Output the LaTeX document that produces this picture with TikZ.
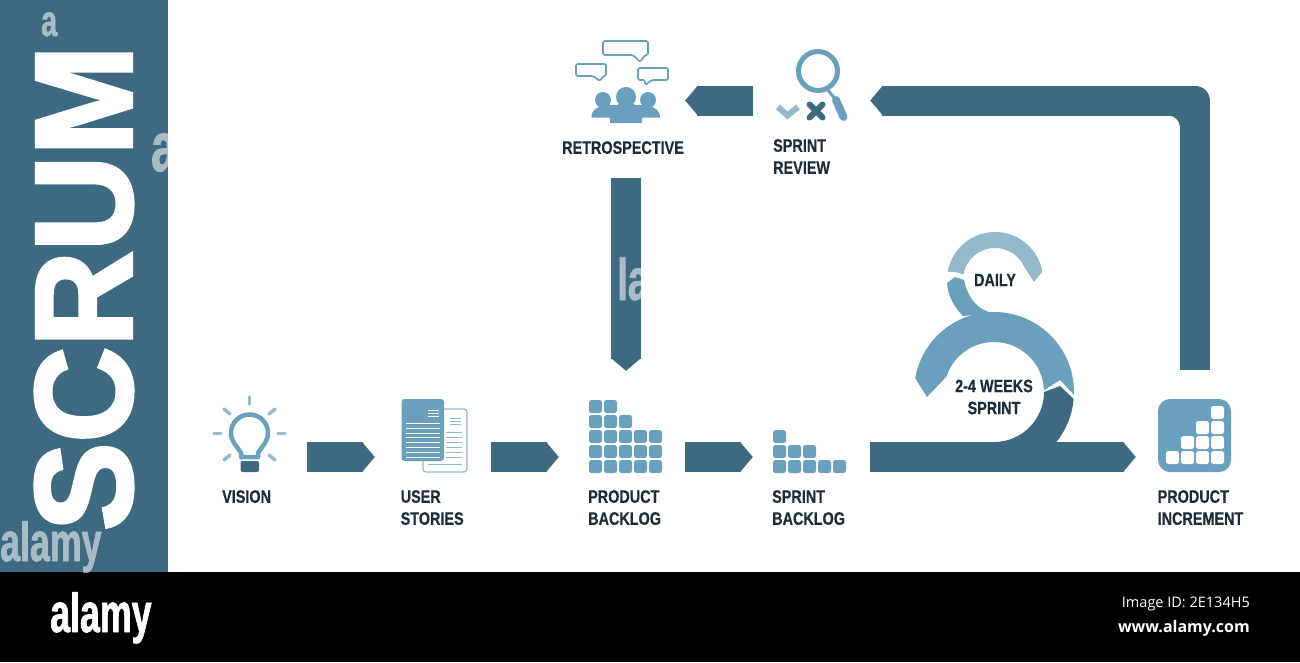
\documentclass[tikz,border=0pt]{standalone}
\usepackage{fontspec}
\usepackage{tikz}
\usetikzlibrary{
  arrows.meta,
  calc
}
\setmainfont{Liberation Sans}
\newfontfamily\labelfont[FakeStretch=0.8,FakeBold=0.4]{Liberation Sans}
\newfontfamily\titlefont[FakeStretch=0.96,FakeBold=2.5]{Liberation Sans}
\newfontfamily\markfont[FakeStretch=0.65,FakeBold=1.2]{Liberation Sans}
\newfontfamily\idfont{Open Sans}
\definecolor{scrumdark}{HTML}{3D6A80}
\definecolor{scrummid}{HTML}{6A9FBD}
\definecolor{scrumlight}{HTML}{93BACB}
\definecolor{scrumtext}{HTML}{1D2C36}
\definecolor{scrummark}{HTML}{A9BBC5}

\begin{document}
\begin{tikzpicture}[x=1pt,y=-1pt]
	\tikzset{
		steplabel/.style={
				anchor=north west, inner sep=0pt, align=left, text=scrumtext,
				font=\labelfont\bfseries\fontsize{18}{22}\selectfont,
			},
		looplabel/.style={
				inner sep=0pt, align=center, text=scrumtext,
				font=\labelfont\bfseries\fontsize{18}{22}\selectfont,
			},
		markword/.style={
				inner sep=0pt, anchor=base west, text=#1,
				font=\markfont\bfseries\fontsize{55}{55}\selectfont,
			},
		iconslot/.style={inner sep=0pt, minimum height=30pt, minimum width=#1},
		flow/.style={
				draw=scrumdark, line width=30pt,
				-{Triangle[length=13pt,width=30pt]},
			},
		cell/.style={fill=scrummid, rounded corners=2.5pt},
		whitecell/.style={fill=white, rounded corners=2.5pt},
		ray/.style={draw=scrumlight, line width=3.5pt, line cap=round},
		bubble/.style={draw=scrummid, line width=1.7pt, rounded corners=1.5pt, line join=round},
		textline/.style={draw=#1, line width=1pt},
	}
	\useasboundingbox (0,0) rectangle (1300,662);
	\fill[black] (0,572) rectangle (1300,662);
	\fill[scrumdark] (0,0) rectangle (168,572);
	\node[markword=scrummark, font=\markfont\bfseries\fontsize{44}{44}\selectfont] (marktop) at (41,36) {a};
	\node[markword=scrummark, font=\markfont\bfseries\fontsize{70}{70}\selectfont] (markside) at (151,171) {a};
	\fill[white] (168,0) rectangle (1300,572);

	\node[rotate=90, inner sep=0pt, text=white, font=\titlefont\bfseries\fontsize{138}{138}\selectfont] (title) at (84,288) {SCRUM};

	% icon slots, the arrows run between them
	\node[iconslot=74pt] (vision) at (249,457) {};
	\node[iconslot=66pt] (stories) at (434,457) {};
	\node[iconslot=74pt] (product) at (626,457) {};
	\node[iconslot=75pt] (sprint) at (810.5,457) {};
	\node[iconslot=73pt] (increment) at (1194.5,457) {};
	\node[iconslot=70pt] (retro) at (626,100.5) {};
	\node[iconslot=75pt] (review) at (810.5,100.5) {};
	\coordinate (incrementup) at (1195,370);

	\draw[flow, shorten <=21pt, shorten >=26pt] (vision) -- (stories);
	\draw[flow, shorten <=24pt, shorten >=30pt] (stories) -- (product);
	\draw[flow, shorten <=22pt, shorten >=20pt] (product) -- (sprint);
	\draw[flow, shorten <=22pt, shorten >=22pt] (sprint) -- (increment);
	\draw[flow, shorten <=20pt, shorten >=24pt] (review) -- (retro);
	\draw[flow, shorten <=62pt, shorten >=71pt] (retro) -- (product);
	\draw[flow, line join=round, shorten >=22pt] (incrementup) |- (review);
	\fill[scrumdark] (1168,115.5) -- (1180,115.5) -- (1180,127.5) arc (0:-90:12) -- cycle;

	\begin{scope}
		\clip (611,178) rectangle (641,358);
		\node[markword=scrummark, font=\markfont\bfseries\fontsize{59}{59}\selectfont] (markmiddle) at (617,300) {la};
	\end{scope}

	% sprint loop
	\coordinate (sprintcentre) at (994,392);
	\fill[scrumdark] (994,442) arc (90:0:50) -- (1060,386) -- ($(sprintcentre)+(5:80)$) arc (5:38.7:80) -- cycle;
	\fill[scrummid] (1060,380) -- ($(sprintcentre)+(2:80)$) arc (2:-170:80) -- (927,397) -- ($(sprintcentre)+(-162:50)$) arc (-162:-2:50) -- cycle;
	\fill[scrummid] (955,277) -- (947,283) .. controls (948,297) and (955,308) .. (963,316) -- (994,313) .. controls (978,311) and (968,298) .. (964,280) -- cycle;

	% daily loop
	\coordinate (dailycentre) at (995,280);
	\fill[scrumlight] (955,272) -- ($(dailycentre)+(-170:48)$) arc (-170:-10:48) -- (1034,282) -- ($(dailycentre)+(-25:32)$) arc (-25:-170:32) -- cycle;

	% vision
	\draw[ray] (249.5,397) -- (249.5,404);
	\draw[ray] (214,433.5) -- (221,433.5);
	\draw[ray] (278,433.5) -- (285,433.5);
	\draw[ray] (224,409) -- (230,414);
	\draw[ray] (275,409) -- (269,414);
	\draw[ray] (224,460) -- (230,455);
	\draw[ray] (275,460) -- (269,455);
	\draw[draw=scrummid, line width=4.5pt, line join=round] (241,457) -- (241,453) .. controls (237,446) and (231,442) .. (231,433) arc (180:360:18.5) .. controls (268,442) and (262,446) .. (258,453) -- (258,457) -- cycle;
	\fill[scrumdark, rounded corners=2pt] (240.5,461) rectangle (259,472);

	% user stories
	\draw[draw=scrumlight, line width=1.2pt, rounded corners=3pt] (423,409) rectangle (467,472);
	\foreach \liney in {418,421,424}
		\draw[textline=scrumlight] (450,\liney) -- (461,\liney);
	\foreach \liney in {432,437,442,447,452,457}
		\draw[textline=scrumlight] (446,\liney) -- (462,\liney);
	\draw[textline=scrumlight] (428,464) -- (462,464);
	\fill[scrummid, rounded corners=3pt] (401.5,399) rectangle (444,461);
	\foreach \liney in {410,413,416}
		\draw[textline=white] (428,\liney) -- (439,\liney);
	\foreach \liney in {423,428,433,437,442,447,452,457}
		\draw[textline=white] (406,\liney) -- (440,\liney);

	% backlogs
	\foreach \col/\rows in {0/5,1/5,2/4,3/3,4/3}
		\foreach \row in {1,...,\rows}
			\fill[cell] ({589+15*\col},{475-15*\row}) rectangle ++(13,13);
	\foreach \col/\rows in {0/3,1/2,2/2,3/1,4/1}
		\foreach \row in {1,...,\rows}
			\fill[cell] ({773+15*\col},{475-15*\row}) rectangle ++(13,13);

	% increment
	\fill[scrummid, rounded corners=12pt] (1158,399) rectangle (1231,472);
	\foreach \col/\rows in {0/1,1/2,2/3,3/4}
		\foreach \row in {1,...,\rows}
			\fill[whitecell] ({1166+15*\col},{466-15*\row}) rectangle ++(13,13);

	% retrospective
	\draw[bubble] (603,41) -- (648,41) -- (648,55) -- (645,55) -- (640,62) -- (633,55) -- (603,55) -- cycle;
	\draw[bubble] (576,64) -- (606,64) -- (606,76) -- (603,76) -- (600,81) -- (593,76) -- (576,76) -- cycle;
	\draw[bubble] (638,68) -- (668,68) -- (668,80) -- (652,80) -- (645,85) -- (645,80) -- (638,80) -- cycle;
	\fill[scrummid] (603,100) circle (8);
	\fill[scrummid] (648,100) circle (8);
	\fill[scrummid] (591.5,117.5) .. controls (591.5,110) and (596,108) .. (603,105) -- (648,105) .. controls (655,108) and (660,110) .. (660,117.5) -- cycle;
	\fill[scrummid] (626,97) circle (10);
	\fill[scrummid] (610,123) -- (610,113) .. controls (611,107) and (618,103) .. (626,103) .. controls (634,103) and (641,107) .. (642,113) -- (642,123) -- cycle;

	% sprint review
	\draw[draw=scrummid, line width=5pt] (818,71) circle (19.5);
	\draw[draw=scrummid, line width=3pt] (827,89) -- (836,100);
	\draw[draw=scrummid, line width=8pt, line cap=round] (836,100) -- (843.5,117);
	\draw[draw=scrumlight, line width=6pt, line join=miter] (778,107) -- (787.5,115.5) -- (798,107);
	\draw[draw=scrumdark, line width=6pt, line cap=round] (809.5,104.5) -- (822.5,117.5);
	\draw[draw=scrumdark, line width=6pt, line cap=round] (822.5,104.5) -- (809.5,117.5);

	% labels
	\node[steplabel] (visionlabel) at (222,490) {VISION};
	\node[steplabel] (storieslabel) at (400.5,490) {USER\\STORIES};
	\node[steplabel] (productlabel) at (588,490) {PRODUCT\\BACKLOG};
	\node[steplabel] (sprintlabel) at (772,490) {SPRINT\\BACKLOG};
	\node[steplabel] (incrementlabel) at (1157.5,490) {PRODUCT\\INCREMENT};
	\node[steplabel] (retrolabel) at (562,141) {RETROSPECTIVE};
	\node[steplabel] (reviewlabel) at (773,139) {SPRINT\\REVIEW};
	\node[looplabel] (dailylabel) at (995,280) {DAILY};
	\node[looplabel] (weekslabel) at (994,397) {2-4 WEEKS\\SPRINT};

	% stock marks
	\node[markword=scrummark] (markleft) at (0,561) {alamy};
	\node[markword=white] (markbar) at (50,632) {alamy};
	\node[anchor=east, inner sep=0pt, text=white, font=\idfont\fontsize{14.5}{14.5}\selectfont] (markid) at (1250,604) {Image ID: 2E134H5};
	\node[anchor=east, inner sep=0pt, text=white, font=\idfont\bfseries\fontsize{16}{16}\selectfont] (markurl) at (1250,628) {www.alamy.com};
\end{tikzpicture}
\end{document}
